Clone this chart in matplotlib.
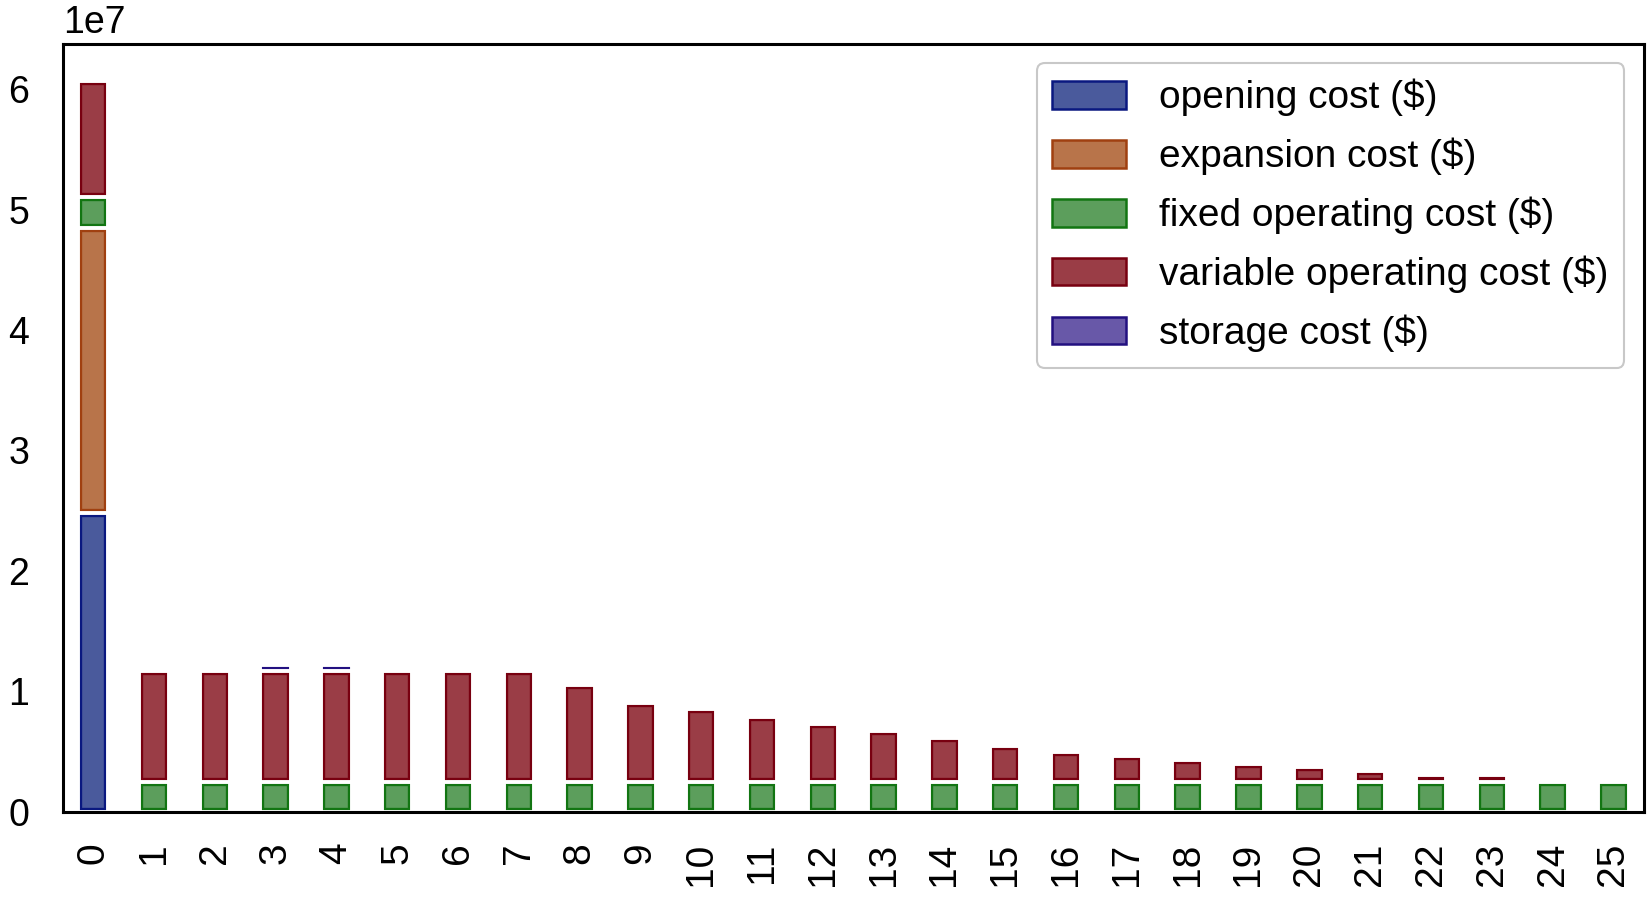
import matplotlib
matplotlib.use("Agg")
import matplotlib.pyplot as plt
import matplotlib.patheffects as pe
from matplotlib.patches import Patch
import numpy as np

years = [str(i) for i in range(26)]
series_names = ["opening cost ($)", "expansion cost ($)", "fixed operating cost ($)",
                "variable operating cost ($)", "storage cost ($)"]

opening = [2.48e7] + [0.0] * 25
expansion = [2.37e7] + [0.0] * 25
fixed = [0.255e7] + [0.245e7] * 25
variable = [0.965e7, 0.925e7, 0.925e7, 0.925e7, 0.925e7, 0.925e7, 0.925e7, 0.925e7,
            0.81e7, 0.66e7, 0.605e7, 0.54e7, 0.485e7, 0.425e7, 0.37e7, 0.305e7,
            0.25e7, 0.22e7, 0.185e7, 0.155e7, 0.125e7, 0.09e7, 0.06e7, 0.06e7,
            0.0, 0.0]
storage = [0.0, 0.0, 0.0, 0.05e7, 0.05e7] + [0.0] * 21

faces = ["#4a5a9c", "#b8744a", "#5c9e5c", "#9a3d46", "#6858a8"]
edges = ["#0a1880", "#a04010", "#127512", "#780010", "#221080"]


class EdgeOnly(pe.AbstractPathEffect):
    """Stroke the outline only (no fill)."""
    def __init__(self, linewidth, color):
        super().__init__()
        self._lw = linewidth
        self._color = color

    def draw_path(self, renderer, gc, tpath, affine, rgbFace=None):
        gc0 = renderer.new_gc()
        gc0.copy_properties(gc)
        gc0.set_linewidth(self._lw)
        gc0.set_foreground(self._color)
        renderer.draw_path(gc0, tpath, affine, None)
        gc0.restore()


plt.rcParams['font.family'] = ['Liberation Sans', 'DejaVu Sans']

fig = plt.figure(figsize=(16.52, 8.97), dpi=100)
ax = fig.add_axes([0.038, 0.095, 0.957, 0.856])

x = np.arange(len(years))
bottom = np.zeros(len(years))
width = 0.5
for vals, fc, ec in zip([opening, expansion, fixed, variable, storage], faces, edges):
    vals = np.array(vals)
    mask = vals > 0
    bars = ax.bar(x[mask], vals[mask], width=width, bottom=bottom[mask],
                  facecolor=fc, edgecolor=ec, linewidth=0, zorder=2)
    for b in bars:
        b.set_clip_path(b)
        b.set_path_effects([pe.Stroke(linewidth=6.0, foreground=ec),
                            EdgeOnly(2.8, 'white')])
    bottom = bottom + vals

ax.set_xlim(-0.5, len(years) - 0.5)
ax.set_ylim(0, 6.375e7)
ax.set_xticks(x)
ax.set_xticklabels(years, rotation=90)
ax.set_yticks([0, 1e7, 2e7, 3e7, 4e7, 5e7, 6e7])
ax.tick_params(axis='both', length=0, colors='black')
ax.tick_params(axis='x', pad=22, labelsize=28)
ax.tick_params(axis='y', pad=24, labelsize=27)
ax.yaxis.OFFSETTEXTPAD = 8
ax.yaxis.get_offset_text().set_fontsize(27)

for s in ax.spines.values():
    s.set_linewidth(2.2)
    s.set_color('black')

handles = [Patch(facecolor=fc, edgecolor=ec, linewidth=1.8) for fc, ec in zip(faces, edges)]
leg = ax.legend(handles, series_names, loc='upper right', fontsize=28,
                handlelength=1.9, handleheight=0.72, handletextpad=0.85,
                labelspacing=0.55, borderaxespad=0.5, frameon=True, fancybox=True,
                edgecolor='#c8c8c8', framealpha=1.0)
leg.get_frame().set_linewidth(1.5)

fig.savefig("out.png", dpi=100)
